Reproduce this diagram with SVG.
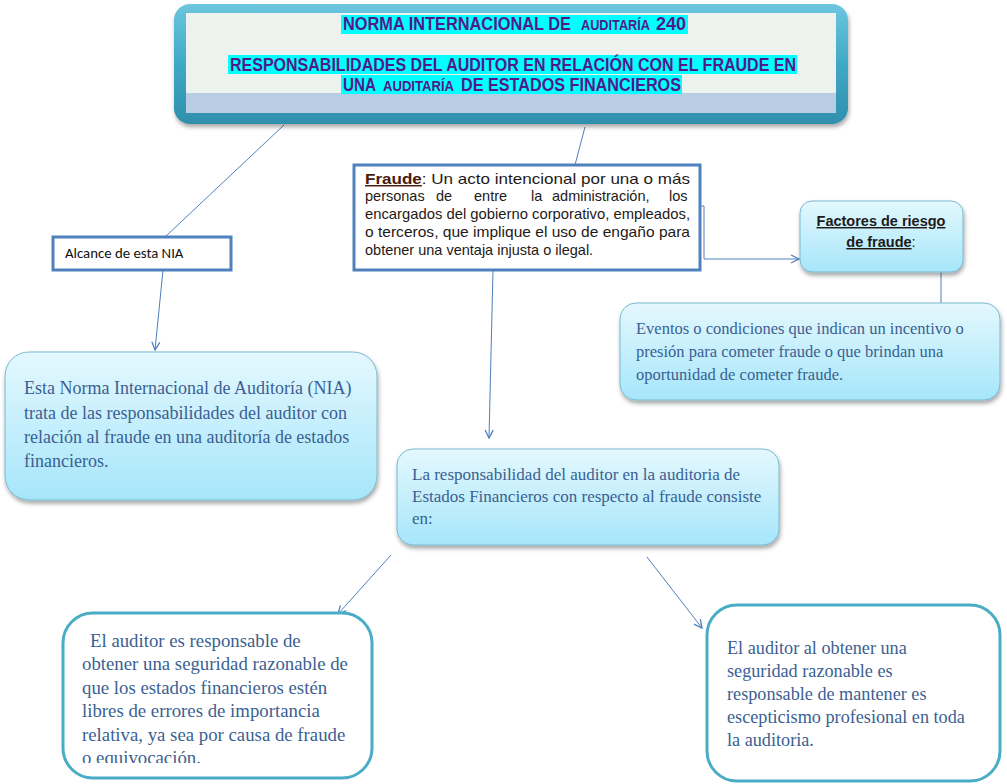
<svg xmlns="http://www.w3.org/2000/svg" width="1007" height="784" viewBox="0 0 1007 784">
<defs>
<linearGradient id="cy" x1="0" y1="0" x2="0" y2="1">
<stop offset="0" stop-color="#e4f8fe"/>
<stop offset="1" stop-color="#a6e6fa"/>
</linearGradient>
<linearGradient id="teal" x1="0" y1="0" x2="0" y2="1">
<stop offset="0" stop-color="#6cc6de"/>
<stop offset="0.5" stop-color="#3fa9c6"/>
<stop offset="1" stop-color="#2f8fac"/>
</linearGradient>
<filter id="sh" x="-10%" y="-10%" width="125%" height="130%">
<feDropShadow dx="1" dy="3" stdDeviation="2" flood-color="#000" flood-opacity="0.35"/>
</filter>
<marker id="ar" viewBox="0 0 10 10" refX="9" refY="5" markerWidth="10" markerHeight="10" markerUnits="userSpaceOnUse" orient="auto">
<path d="M1,1 L9,5 L1,9" fill="none" stroke="#4f81bd" stroke-width="1.3"/>
</marker>
<clipPath id="clipBL"><rect x="63" y="613" width="309" height="150"/></clipPath>
</defs>
<style>
.conn line, .conn polyline { stroke:#4f81bd; stroke-width:1; fill:none; }
.cyan { fill:url(#cy); stroke:#79b9cf; stroke-width:1; filter:url(#sh); }
.wbox { fill:#fff; stroke:#4f81bd; stroke-width:3; }
.obox { fill:#fff; stroke:#4bacc6; stroke-width:3; }
.ser { font-family:"Liberation Serif","DejaVu Serif",serif; fill:#3b5f92; }
.ar { font-family:"Liberation Sans",Arial,sans-serif; font-size:14.5px; fill:#1f1a17; }
.tt { font-family:"Liberation Sans",Arial,sans-serif; font-weight:bold; fill:#52198a; font-size:17.5px; }
.sc { font-size:14px; }
.hl { fill:#00ffff; }
</style>
<rect width="1007" height="784" fill="#fff"/>

<g class="conn">
<line x1="284" y1="125" x2="165" y2="237"/>
<line x1="585" y1="127" x2="575" y2="165"/>
<line x1="163" y1="270" x2="155" y2="350" marker-end="url(#ar)"/>
<line x1="493" y1="270" x2="489" y2="438" marker-end="url(#ar)"/>
<polyline points="700,206 704,206 704,259 799,259" marker-end="url(#ar)"/>
<line x1="941" y1="272" x2="941" y2="305"/>
<line x1="391" y1="555" x2="338" y2="614" marker-end="url(#ar)"/>
<line x1="647" y1="557" x2="702" y2="628" marker-end="url(#ar)"/>
</g>

<g id="title">
<rect x="174" y="4" width="674" height="120" rx="16" fill="url(#teal)" filter="url(#sh)"/>
<rect x="186" y="13" width="650" height="80" fill="#eef2ef"/>
<rect x="186" y="93" width="650" height="20" fill="#b8cce4"/>
<rect class="hl" x="341" y="15" width="347" height="19"/>
<rect class="hl" x="228" y="55" width="569" height="19"/>
<rect class="hl" x="341" y="75" width="341" height="19"/>
<text class="tt" x="343" y="30" textLength="228" lengthAdjust="spacingAndGlyphs">NORMA INTERNACIONAL DE</text>
<text class="tt sc" x="581" y="30" textLength="69" lengthAdjust="spacingAndGlyphs">AUDITARÍA</text>
<text class="tt" x="656" y="30" textLength="30" lengthAdjust="spacingAndGlyphs">240</text>
<text class="tt" x="230" y="71" textLength="566" lengthAdjust="spacingAndGlyphs">RESPONSABILIDADES DEL AUDITOR EN RELACIÓN CON EL FRAUDE EN</text>
<text class="tt" x="343" y="91" textLength="33" lengthAdjust="spacingAndGlyphs">UNA</text>
<text class="tt sc" x="383" y="91" textLength="71" lengthAdjust="spacingAndGlyphs">AUDITARÍA</text>
<text class="tt" x="461" y="91" textLength="220" lengthAdjust="spacingAndGlyphs">DE ESTADOS FINANCIEROS</text>
</g>

<g id="alcance">
<rect class="wbox" x="53" y="237" width="178" height="33"/>
<text x="65" y="258" font-family="Carlito,'Liberation Sans',sans-serif" font-size="14.8" fill="#111">Alcance de esta NIA</text>
</g>

<g id="esta-norma" font-size="18">
<rect class="cyan" x="5" y="352" width="372" height="148" rx="24"/>
<text class="ser" x="24" y="394">Esta Norma Internacional de Auditoría (NIA)</text>
<text class="ser" x="24" y="419">trata de las responsabilidades del auditor con</text>
<text class="ser" x="24" y="443">relación al fraude en una auditoría de estados</text>
<text class="ser" x="24" y="467">financieros.</text>
</g>

<g id="fraude">
<rect class="wbox" x="354" y="165" width="346" height="105"/>
<text class="ar" x="365" y="184" textLength="325" lengthAdjust="spacingAndGlyphs"><tspan font-weight="bold" text-decoration="underline" fill="#4a1a0c">Fraude</tspan>: Un acto intencional por una o más</text>
<text class="ar" y="201"><tspan x="365">personas</tspan><tspan x="436">de</tspan><tspan x="474">entre</tspan><tspan x="531">la</tspan><tspan x="552">administración,</tspan><tspan x="669">los</tspan></text>
<text class="ar" x="365" y="219" textLength="325" lengthAdjust="spacingAndGlyphs">encargados del gobierno corporativo, empleados,</text>
<text class="ar" x="365" y="237" textLength="325" lengthAdjust="spacingAndGlyphs">o terceros, que implique el uso de engaño para</text>
<text class="ar" x="365" y="255">obtener una ventaja injusta o ilegal.</text>
</g>

<g id="factores">
<rect class="cyan" x="800" y="201" width="163" height="71" rx="12"/>
<text class="ar" x="881" y="226" text-anchor="middle" font-weight="bold" text-decoration="underline" fill="#3a1a10">Factores de riesgo</text>
<text class="ar" x="881" y="247" text-anchor="middle" fill="#3a1a10"><tspan font-weight="bold" text-decoration="underline">de fraude</tspan>:</text>
</g>

<g id="eventos" font-size="16.5">
<rect class="cyan" x="620" y="303" width="380" height="97" rx="16"/>
<text class="ser" x="636" y="334">Eventos o condiciones que indican un incentivo o</text>
<text class="ser" x="636" y="357">presión para cometer fraude o que brindan una</text>
<text class="ser" x="636" y="380">oportunidad de cometer fraude.</text>
</g>

<g id="responsabilidad" font-size="17">
<rect class="cyan" x="397" y="449" width="382" height="96" rx="16"/>
<text class="ser" x="412" y="480">La responsabilidad del auditor en la auditoria de</text>
<text class="ser" x="412" y="502">Estados Financieros con respecto al fraude consiste</text>
<text class="ser" x="412" y="524">en:</text>
</g>

<g id="seguridad" font-size="18.8">
<rect class="obox" x="63" y="613" width="309" height="165" rx="30"/>
<g clip-path="url(#clipBL)">
<text class="ser" x="90" y="647">El auditor es responsable de</text>
<text class="ser" x="82" y="670">obtener una seguridad razonable de</text>
<text class="ser" x="82" y="694">que los estados financieros estén</text>
<text class="ser" x="82" y="717">libres de errores de importancia</text>
<text class="ser" x="82" y="741">relativa, ya sea por causa de fraude</text>
<text class="ser" x="82" y="764">o equivocación.</text>
</g>
</g>

<g id="escepticismo" font-size="18.2">
<rect class="obox" x="707" y="605" width="293" height="176" rx="30"/>
<text class="ser" x="727" y="654">El auditor al obtener una</text>
<text class="ser" x="727" y="677">seguridad razonable es</text>
<text class="ser" x="727" y="700">responsable de mantener es</text>
<text class="ser" x="727" y="723">escepticismo profesional en toda</text>
<text class="ser" x="727" y="746">la auditoria.</text>
</g>
</svg>
